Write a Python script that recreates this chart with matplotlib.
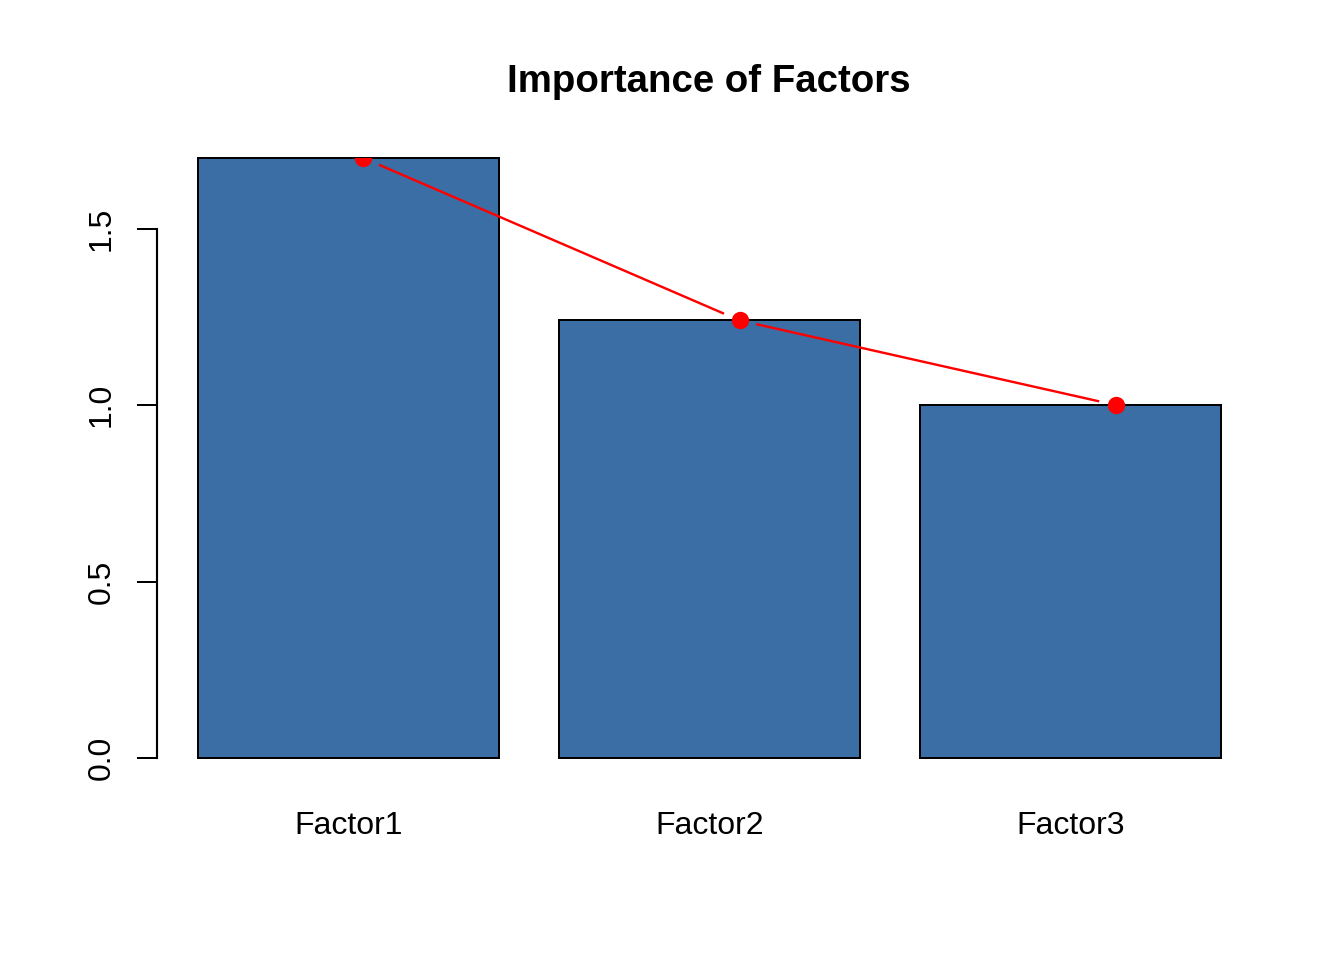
import numpy as np
import matplotlib.pyplot as plt
from matplotlib.patches import Rectangle

plt.rcParams["font.family"] = ["Liberation Sans", "DejaVu Sans"]

factors = ["Factor1", "Factor2", "Factor3"]
importance = [1.70, 1.24, 1.00]
# barplot centres (width 1, space 0.2) and where the points were drawn
bar_x = [0.7, 1.9, 3.1]
point_x = [0.75, 2.0, 3.25]

fig = plt.figure(figsize=(7, 5), dpi=192)
ax = fig.add_axes([157 / 1344, 1 - 782 / 960, (1262 - 157) / 1344, (782 - 133) / 960])

ax.bar(bar_x, importance, width=1.0, color="#3A6EA5", edgecolor="black", linewidth=0.75)

ax.set_xlim(0.064, 3.736)
ax.set_ylim(-0.068, 1.771)

# type = "b": segments with gaps round each point
fig.canvas.draw()
pts = ax.transData.transform(np.column_stack([point_x, importance]))
gap = 17
for p0, p1 in zip(pts[:-1], pts[1:]):
    d = p1 - p0
    u = d / np.hypot(*d)
    a = ax.transData.inverted().transform([p0 + u * gap, p1 - u * gap])
    ax.plot(a[:, 0], a[:, 1], color="#FF0000", linewidth=0.9, solid_capstyle="butt")
marks, = ax.plot(point_x, importance, "o", color="#FF0000", markersize=5.5, linestyle="none")
clip = Rectangle((0, -1), 4, 1 + max(importance), transform=ax.transData)
marks.set_clip_path(clip)

for s in ["top", "right", "bottom"]:
    ax.spines[s].set_visible(False)
ax.spines["left"].set_bounds(0, 1.5)

ax.set_yticks([0.0, 0.5, 1.0, 1.5])
ax.set_yticklabels(["0.0", "0.5", "1.0", "1.5"], rotation=90, va="center", fontsize=12)
ax.tick_params(axis="y", length=7.5, width=0.75, pad=7.5)
ax.set_xticks(bar_x)
ax.set_xticklabels(factors, fontsize=12)
ax.tick_params(axis="x", length=0, pad=11)

fig.text(709 / 1344, 1 - 82 / 960, "Importance of Factors", fontsize=14.4,
         fontweight="bold", ha="center", va="center")

fig.savefig("out.png", dpi=192)
